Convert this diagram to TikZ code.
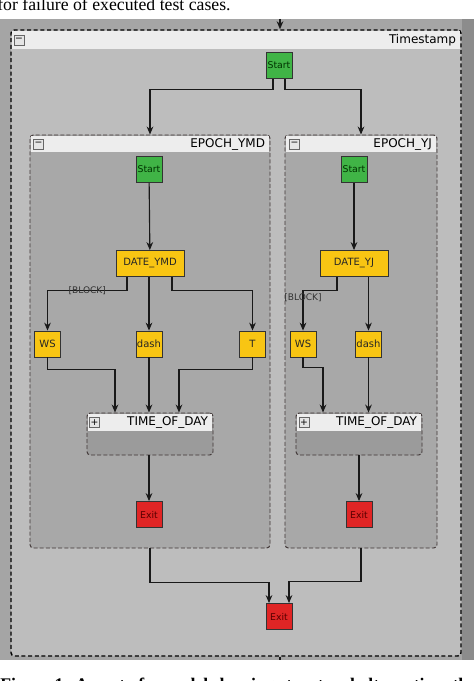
\documentclass[tikz,border=0pt]{standalone}
\usepackage{fontspec}
\setmainfont{Liberation Serif}
\newfontfamily\uifont{DejaVu Sans}
\usetikzlibrary{arrows.meta}
\definecolor{bgdark}{HTML}{A5A5A5}
\definecolor{bgright}{HTML}{8C8C8C}
\definecolor{tsbody}{HTML}{BDBDBD}
\definecolor{epbody}{HTML}{A8A8A8}
\definecolor{todbody}{HTML}{9B9B9B}
\definecolor{hdrwhite}{HTML}{EDEDED}
\definecolor{startgreen}{HTML}{40B446}
\definecolor{prodyellow}{HTML}{F8C513}
\definecolor{exitred}{HTML}{E02525}
\definecolor{grpline}{HTML}{3E3434}
\begin{document}
\begin{tikzpicture}[x=0.75pt,y=-0.75pt]
  \tikzstyle{every node}=[font=\uifont, inner sep=0pt]
  \tikzstyle{box}=[draw=black!80, line width=0.6pt, minimum width=19.5pt, minimum height=19.5pt, font=\uifont\fontsize{7}{7}\selectfont]
  \tikzstyle{start}=[box, fill=startgreen, text=green!20!black]
  \tikzstyle{exit}=[box, fill=exitred, text=red!35!black]
  \tikzstyle{prod}=[box, fill=prodyellow, text=black!85, font=\uifont\fontsize{7.5}{8}\selectfont]
  \tikzstyle{group}=[draw=grpline, dash pattern=on 3pt off 1.6pt, rounded corners=2.5pt, line width=0.7pt]
  \tikzstyle{hdr}=[fill=hdrwhite, align=right, inner xsep=3pt, font=\uifont\fontsize{9}{10}\selectfont]
  \tikzstyle{tog}=[draw=black!60, fill=black!10, minimum size=7.5pt, font=\uifont\fontsize{7}{7}\selectfont]
  \tikzstyle{lbl}=[text=black!80, font=\uifont\fontsize{6.8}{7}\selectfont]
  \tikzstyle{line}=[draw=black!90, line width=0.85pt]
  \tikzstyle{edge}=[line, -{Stealth[length=6pt,width=5pt]}]

  \useasboundingbox (0,0) rectangle (474,681);
  \clip (0,0) rectangle (474,681);
  \fill[white] (0,0) rectangle (474,681);
  \fill[bgdark] (0,19) rectangle (474,660);
  \fill[bgright] (462,19) rectangle (474,660);

  \node[anchor=base west, font=\fontsize{13.3}{15}\selectfont] (cap1) at (-3,11) {for failure of executed test cases.};
  \node[anchor=base west, font=\bfseries\fontsize{13.3}{15}\selectfont] (cap2) at (0,690) {Figure 1: A part of a model showing structural alternatives that};

  % Timestamp
  \node[group, fill=tsbody, draw=black, line width=1.1pt, dash pattern=on 3pt off 2pt, minimum width=337.5pt, minimum height=469.5pt] (ts) at (236,343) {};
  \node[hdr, text width=330pt, minimum height=13.5pt] (tsh) at (236,40) {Timestamp};
  \node[tog] (tst) at (19,40) {−};
  \node[start] (st) at (279,65.5) {Start};
  \node[exit] (exT) at (279,616.5) {Exit};
  \coordinate (in) at (280,19);
  \coordinate (out) at (280,660);

  % EPOCH_YMD
  \node[group, fill=epbody, minimum width=180pt, minimum height=309.75pt] (ymd) at (150,341.5) {};
  \node[hdr, text width=172.5pt, minimum height=12pt] (ymdh) at (150,144) {EPOCH\_YMD};
  \node[tog] (ymdt) at (38.5,144) {−};
  \node[start] (sY) at (149,169.5) {Start};
  \node[prod, minimum width=51pt] (dY) at (150,263.5) {DATE\_YMD};
  \node[prod] (wsY) at (47.5,344) {WS};
  \node[prod] (dashY) at (149,344) {dash};
  \node[prod] (tY) at (252.5,344) {T};
  \node[group, fill=todbody, minimum width=94.5pt, minimum height=31.5pt] (todY) at (150,434) {};
  \node[hdr, text width=87pt, minimum height=12.75pt] (todYh) at (150,422.5) {TIME\_OF\_DAY};
  \node[tog] (todYt) at (94.5,422.5) {+};
  \node[exit] (exY) at (149,514.5) {Exit};

  % EPOCH_YJ
  \node[group, fill=epbody, minimum width=114pt, minimum height=309.75pt] (yj) at (361,341.5) {};
  \node[hdr, text width=106.5pt, minimum height=12pt] (yjh) at (361,144) {EPOCH\_YJ};
  \node[tog] (yjt) at (294.5,144) {−};
  \node[start] (sJ) at (354,169.5) {Start};
  \node[prod, minimum width=51pt] (dJ) at (354,263.5) {DATE\_YJ};
  \node[prod] (wsJ) at (303,344) {WS};
  \node[prod] (dashJ) at (368.5,344) {dash};
  \node[group, fill=todbody, minimum width=94.5pt, minimum height=31.5pt] (todJ) at (359,434) {};
  \node[hdr, text width=87pt, minimum height=12.75pt] (todJh) at (359,422.5) {TIME\_OF\_DAY};
  \node[tog] (todJt) at (304,422.5) {+};
  \node[exit] (exJ) at (359,514.5) {Exit};

  % connectors
  \draw[edge] (in) -- (in |- ts.north);
  \draw[edge] ([xshift=-4.5pt]st.south) -- ++(0,11) -| (ymd.north);
  \draw[edge] ([xshift=4.5pt]st.south) -- ++(0,11) -| (yj.north);

  \draw[edge] (sY) -- (dY);
  \draw[edge] ([xshift=-17.25pt]dY.south) -- ++(0,14) -| node[lbl, pos=0.25] {[BLOCK]} (wsY.north);
  \draw[edge] (dY.south -| dashY) -- (dashY.north);
  \draw[edge] ([xshift=16.5pt]dY.south) -- ++(0,14) -| (tY.north);
  \draw[edge] (wsY.south) -- ++(0,12) -| ([xshift=-26.25pt]todY.north);
  \draw[edge] (dashY.south) -- (dashY.south |- todY.north);
  \draw[edge] (tY.south) -- ++(0,12) -| ([xshift=21.75pt]todY.north);
  \draw[edge] (todY.south -| exY) -- (exY.north);

  \draw[edge] (sJ) -- (dJ);
  \draw[edge] ([xshift=-12.75pt]dJ.south) -- ++(0,14) -| node[lbl, pos=0.58] {[BLOCK]} (wsJ.north);
  \draw[edge] (dJ.south -| dashJ) -- (dashJ.north);
  \draw[edge] (wsJ.south) -- ++(0,10) -| ([xshift=-27pt]todJ.north);
  \draw[edge] (dashJ.south) -- (dashJ.south |- todJ.north);
  \draw[edge] (todJ.south -| exJ) -- (exJ.north);

  \draw[edge] (ymd.south) -- ++(0,34) -| ([xshift=-7.5pt]exT.north);
  \draw[edge] (yj.south) -- ++(0,33) -| ([xshift=7.5pt]exT.north);
  \draw[line] (out |- ts.south) -- (out);
\end{tikzpicture}
\end{document}
